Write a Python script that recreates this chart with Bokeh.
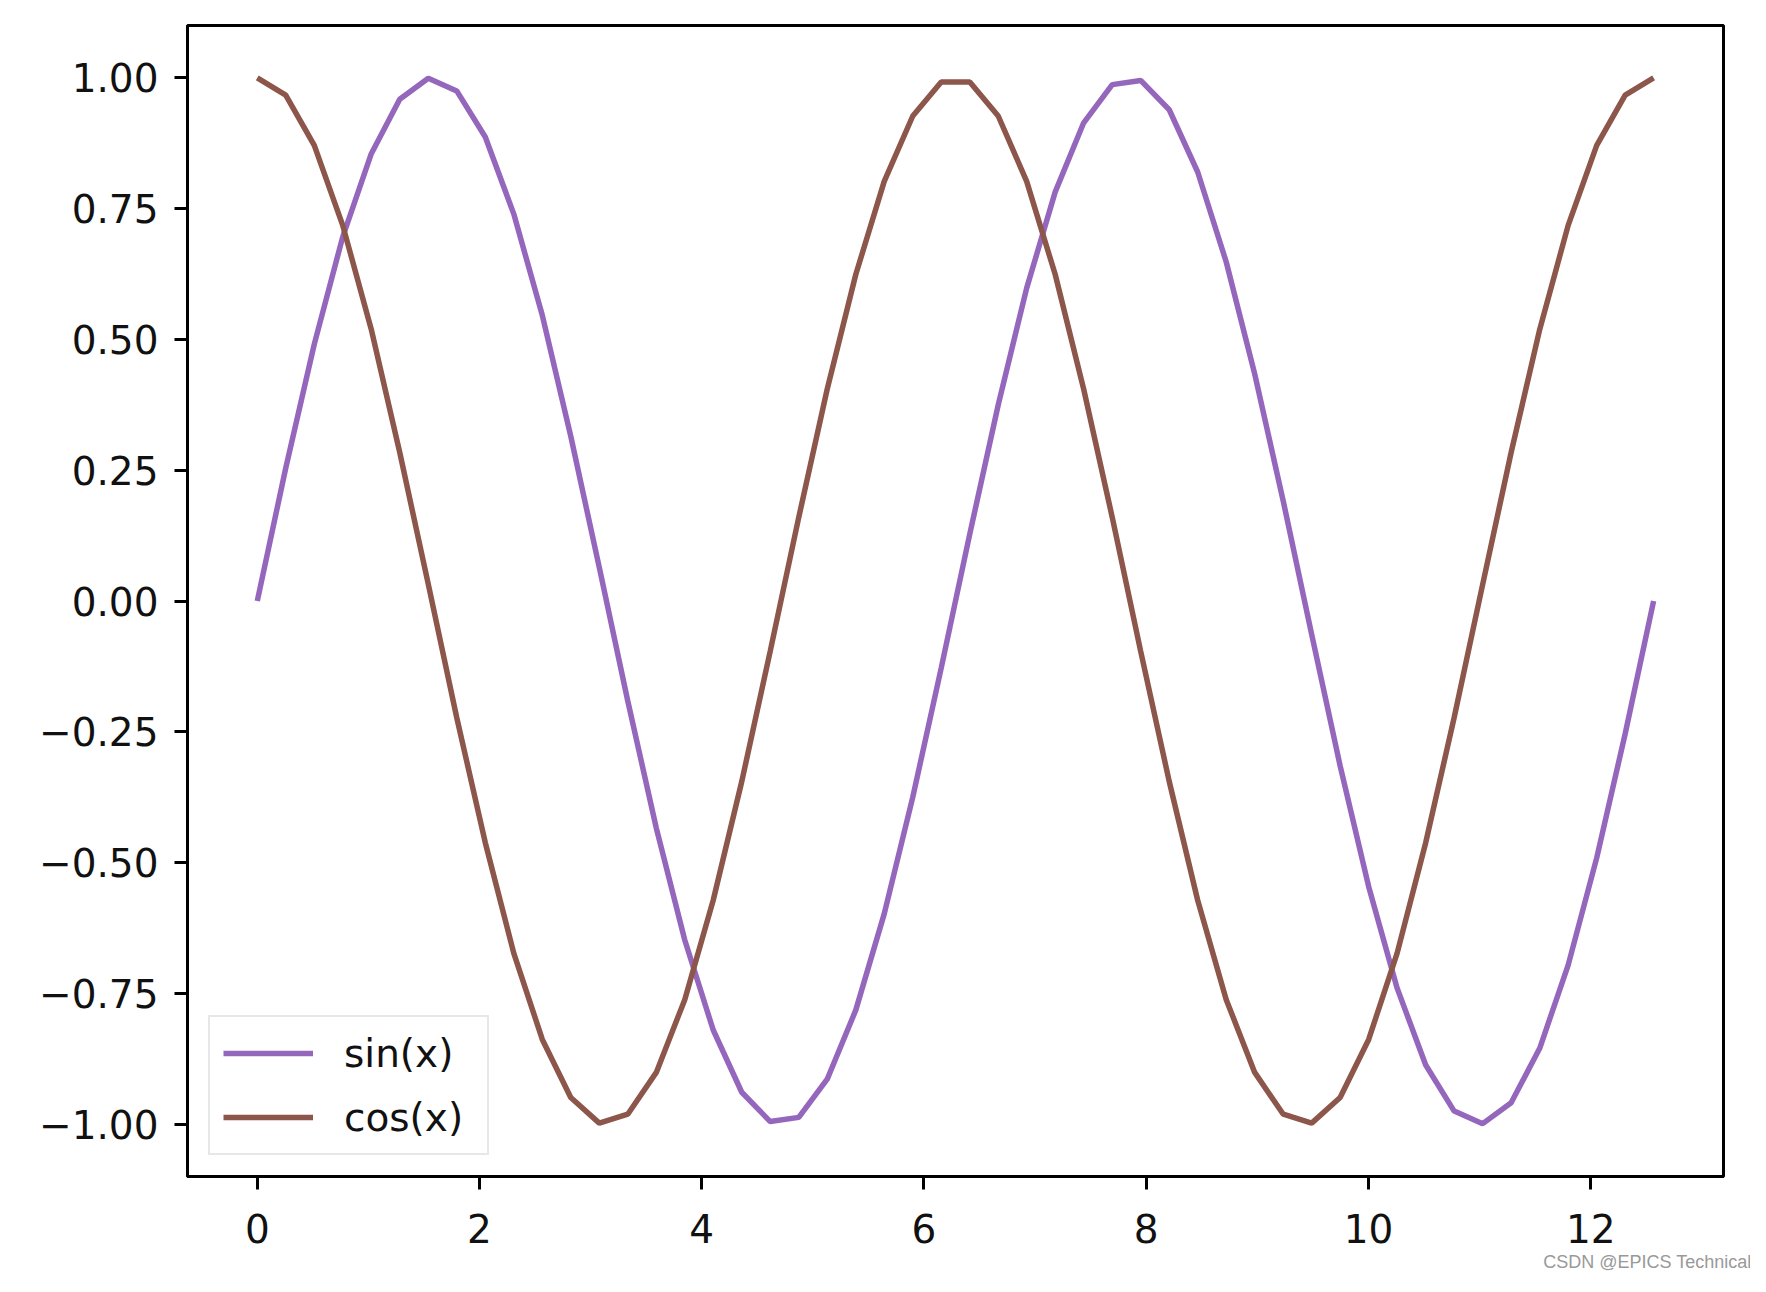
from bokeh.plotting import figure
from bokeh.models import Range1d, FixedTicker, CustomJSTickFormatter, Legend, LegendItem, Title
from bokeh.embed import file_html
from bokeh.resources import INLINE

# ---- data ----
x_vals = [0.0, 0.256, 0.513, 0.769, 1.026, 1.282, 1.539, 1.795, 2.052, 2.308,
          2.565, 2.821, 3.078, 3.334, 3.591, 3.847, 4.103, 4.360, 4.616, 4.873,
          5.129, 5.386, 5.642, 5.899, 6.155, 6.412, 6.668, 6.924, 7.181, 7.437,
          7.694, 7.950, 8.207, 8.463, 8.720, 8.976, 9.233, 9.489, 9.745, 10.002,
          10.258, 10.515, 10.771, 11.028, 11.284, 11.541, 11.797, 12.054, 12.310, 12.566]
sin_vals = [0.0, 0.254, 0.491, 0.696, 0.855, 0.959, 0.999, 0.975, 0.887, 0.740,
            0.546, 0.315, 0.064, -0.191, -0.434, -0.648, -0.820, -0.939, -0.995, -0.987,
            -0.914, -0.782, -0.598, -0.375, -0.128, 0.128, 0.375, 0.598, 0.782, 0.914,
            0.987, 0.995, 0.939, 0.820, 0.648, 0.434, 0.191, -0.064, -0.315, -0.546,
            -0.740, -0.887, -0.975, -0.999, -0.959, -0.855, -0.696, -0.491, -0.254, 0.0]
cos_vals = [1.0, 0.967, 0.871, 0.718, 0.519, 0.284, 0.032, -0.223, -0.462, -0.673,
            -0.838, -0.949, -0.998, -0.981, -0.901, -0.762, -0.572, -0.345, -0.096, 0.160,
            0.405, 0.624, 0.802, 0.927, 0.992, 0.992, 0.927, 0.802, 0.624, 0.405,
            0.160, -0.096, -0.345, -0.572, -0.762, -0.901, -0.981, -0.998, -0.949, -0.838,
            -0.673, -0.462, -0.223, 0.032, 0.284, 0.519, 0.718, 0.871, 0.967, 1.0]
series_labels = ["sin(x)", "cos(x)"]
x_ticks = [0, 2, 4, 6, 8, 10, 12]
y_ticks = [-1.0, -0.75, -0.5, -0.25, 0.0, 0.25, 0.5, 0.75, 1.0]
watermark = "CSDN @EPICS Technical"

FONT = "DejaVu Sans"
FS = "39px"

p = figure(width=1750, height=1276, output_backend="svg", toolbar_location=None,
           x_range=Range1d(-0.628, 13.195), y_range=Range1d(-1.1, 1.1))
p.min_border_left = 187
p.min_border_right = 27
p.min_border_top = 25
p.min_border_bottom = 100
p.background_fill_color = "white"
p.border_fill_color = "white"
p.outline_line_color = "black"
p.outline_line_width = 3
p.xgrid.visible = False
p.ygrid.visible = False

for ax in (p.xaxis[0], p.yaxis[0]):
    ax.axis_line_color = "black"
    ax.axis_line_width = 3
    ax.major_tick_line_width = 3
    ax.major_tick_out = 13
    ax.major_tick_in = 0
    ax.minor_tick_line_color = None
    ax.major_label_text_font = FONT
    ax.major_label_text_font_size = FS
    ax.major_label_text_color = "#111111"
p.xaxis[0].major_label_standoff = 24
p.yaxis[0].major_label_standoff = 16

p.xaxis[0].ticker = FixedTicker(ticks=x_ticks)
p.yaxis[0].ticker = FixedTicker(ticks=y_ticks)
p.xaxis[0].formatter = CustomJSTickFormatter(code="return tick.toFixed(0).replace('-', '\u2212');")
p.yaxis[0].formatter = CustomJSTickFormatter(code="return tick.toFixed(2).replace('-', '\u2212');")

r_sin = p.line(x_vals, sin_vals, line_color="#9467bd", line_width=5.5)
r_cos = p.line(x_vals, cos_vals, line_color="#8c564b", line_width=5.5)

legend = Legend(items=[LegendItem(label=series_labels[0], renderers=[r_sin]),
                       LegendItem(label=series_labels[1], renderers=[r_cos])],
                location="bottom_left")
legend.margin = 21
legend.padding = 13
legend.spacing = 18
legend.glyph_width = 90
legend.glyph_height = 46
legend.label_height = 46
legend.label_width = 130
legend.label_standoff = 31
legend.label_text_font = FONT
legend.label_text_font_size = FS
legend.label_text_color = "#111111"
legend.border_line_color = "#d0d0d0"
legend.border_line_width = 2
legend.background_fill_alpha = 0.8
p.add_layout(legend)

wm = Title(text=watermark, align="right", offset=-28, standoff=8,
           text_font="Liberation Sans", text_font_size="18px",
           text_font_style="normal", text_color="#999999")
p.add_layout(wm, "below")

open("out.html", "w").write(file_html(p, INLINE))
